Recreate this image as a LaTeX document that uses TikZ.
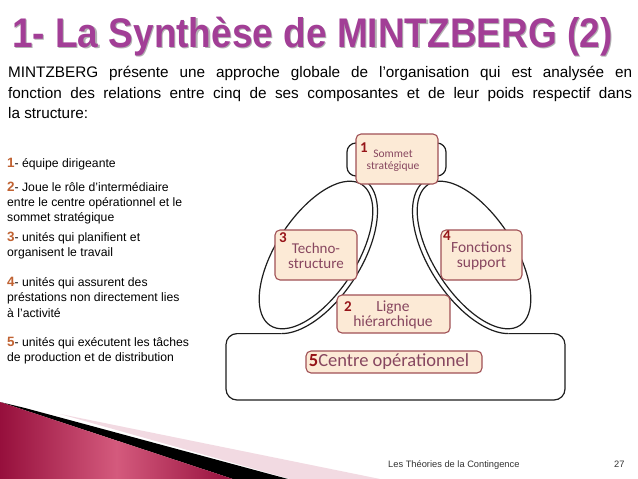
\documentclass[tikz,border=0pt]{standalone}
\usepackage{fontspec}
\setmainfont{Liberation Sans}
\newfontfamily\carl{Carlito}
\definecolor{ttl}{RGB}{162,62,150}
\definecolor{boxfill}{RGB}{252,234,214}
\definecolor{boxdraw}{RGB}{160,80,85}
\definecolor{boxtext}{RGB}{135,70,95}
\definecolor{boxnum}{RGB}{150,20,25}
\definecolor{listnum}{RGB}{192,98,50}
\definecolor{crimA}{RGB}{150,15,60}
\definecolor{crimB}{RGB}{212,90,125}
\definecolor{pinkL}{RGB}{242,218,226}
\definecolor{ink}{RGB}{30,30,30}
\newcommand{\lnum}[1]{\textcolor{listnum}{\fontsize{13.5}{14}\selectfont\bfseries #1}}
\begin{document}
\begin{tikzpicture}[x=1pt,y=-1pt,
  bx/.style={draw=boxdraw, fill=boxfill, line width=1.1pt, rounded corners=5pt, inner sep=0pt},
  btxt/.style={text=boxtext, align=center, inner sep=0pt},
  bnum/.style={text=boxnum, font=\carl\bfseries\fontsize{15}{15}\selectfont, inner sep=0pt},
  outl/.style={draw=ink, line width=1.2pt},
  ltxt/.style={anchor=base west, inner sep=0pt, font=\fontsize{12.2}{14}\selectfont},
  ptxt/.style={anchor=base west, inner sep=0pt, font=\fontsize{15.3}{18}\selectfont}]
\useasboundingbox (0,0) rectangle (638,479);
\fill[white] (0,0) rectangle (638,479);
% title
\node[anchor=base west, inner sep=0pt, text=black!30] (tshadow) at (13.2,48.2)
  {\scalebox{1}[1.12]{\resizebox{600pt}{!}{\bfseries 1- La Synthèse de MINTZBERG (2)}}};
\node[anchor=base west, inner sep=0pt, text=ttl] (title) at (12,47)
  {\scalebox{1}[1.12]{\resizebox{600pt}{!}{\bfseries 1- La Synthèse de MINTZBERG (2)}}};
% intro
\node[ptxt] (p1) at (8,77) {\makebox[624pt][s]{MINTZBERG présente une approche globale de l’organisation qui est analysée en}};
\node[ptxt] (p2) at (8,98) {\makebox[624pt][s]{fonction des relations entre cinq de ses composantes et de leur poids respectif dans}};
\node[ptxt] (p3) at (8,118) {la structure:};
% list
\node[ltxt] (l1) at (7,167) {\lnum{1}- équipe dirigeante};
\node[ltxt] (l2) at (7,191) {\lnum{2}- Joue le rôle d’intermédiaire};
\node[ltxt] (l2b) at (7,206) {entre le centre opérationnel et le};
\node[ltxt] (l2c) at (7,221) {sommet stratégique};
\node[ltxt] (l3) at (7,241) {\lnum{3}- unités qui planifient et};
\node[ltxt] (l3b) at (7,256) {organisent le travail};
\node[ltxt] (l4) at (7,286) {\lnum{4}- unités qui assurent des};
\node[ltxt] (l4b) at (7,301) {préstations non directement lies};
\node[ltxt] (l4c) at (7,317) {à l’activité};
\node[ltxt] (l5) at (7,346) {\lnum{5}- unités qui exécutent les tâches};
\node[ltxt] (l5b) at (7,361) {de production et de distribution};
% diagram outline
\draw[outl, rounded corners=9pt] (347,176) rectangle (446,143);
\draw[outl] plot[smooth cycle, samples=72, domain=0:355, variable=\t]
  ({316+45.8*cos(\t)+33.6*sin(\t)},{255-70.5*cos(\t)+21.8*sin(\t)});
\draw[outl] plot[smooth cycle, samples=72, domain=0:355, variable=\t]
  ({474-45.8*cos(\t)-33.6*sin(\t)},{255-70.5*cos(\t)+21.8*sin(\t)});
\draw[outl] plot[smooth, samples=50, domain=0:161.8, variable=\t]
  ({316+48.5*cos(\t)+37.8*sin(\t)},{255-74.7*cos(\t)+24.5*sin(\t)});
\draw[outl] plot[smooth, samples=50, domain=0:161.8, variable=\t]
  ({474-48.5*cos(\t)-37.8*sin(\t)},{255-74.7*cos(\t)+24.5*sin(\t)});
\draw[outl, rounded corners=11pt] (281.7,333.6) -- (226,333.6) -- (226,400) -- (565,400) -- (565,333.6) -- (508.3,333.6);
% boxes
\node[bx, minimum width=82pt, minimum height=50pt] (b1) at (397,159) {};
\node[btxt, font=\carl\fontsize{11.5}{12}\selectfont] (t1) at (393,161) {Sommet\\stratégique};
\node[bnum] (n1) at (364,148) {1};
\node[bx, minimum width=82pt, minimum height=50pt] (b3) at (316,255) {};
\node[btxt, font=\carl\fontsize{15}{15}\selectfont] (t3) at (316,255.5) {Techno-\\structure};
\node[bnum] (n3) at (283,238) {3};
\node[bx, minimum width=81pt, minimum height=50pt] (b4) at (481.5,255) {};
\node[btxt, font=\carl\fontsize{15.5}{15}\selectfont] (t4) at (481.5,255.5) {Fonctions\\support};
\node[bnum] (n4) at (447,236) {4};
\node[bx, minimum width=113pt, minimum height=38pt] (b2) at (393.5,314) {};
\node[btxt, font=\carl\fontsize{15.5}{15}\selectfont] (t2) at (393,314.5) {Ligne\\hiérarchique};
\node[bnum] (n2) at (348,307) {2};
\node[bx, minimum width=176pt, minimum height=22pt] (b5) at (394,362) {};
\node[btxt, font=\carl\fontsize{18.5}{18}\selectfont] (t5) at (389,362) {\textcolor{boxnum}{\bfseries 5}Centre opérationnel};
% swoosh
\fill[pinkL] (60,414) -- (380,479) -- (290,479) -- cycle;
\fill[black] (25,408) -- (288,479) -- (233,479) -- (0,402) -- cycle;
\shade[left color=crimA, right color=crimA, middle color=crimB] (0,402) -- (233,479) -- (0,479) -- cycle;
% footer
\node[anchor=base west, inner sep=0pt, font=\fontsize{9.3}{10}\selectfont, text=black!80] (foot) at (388,467) {Les Théories de la Contingence};
\node[anchor=base west, inner sep=0pt, font=\fontsize{9.3}{10}\selectfont, text=black!80] (page) at (614,467) {27};
\end{tikzpicture}
\end{document}
